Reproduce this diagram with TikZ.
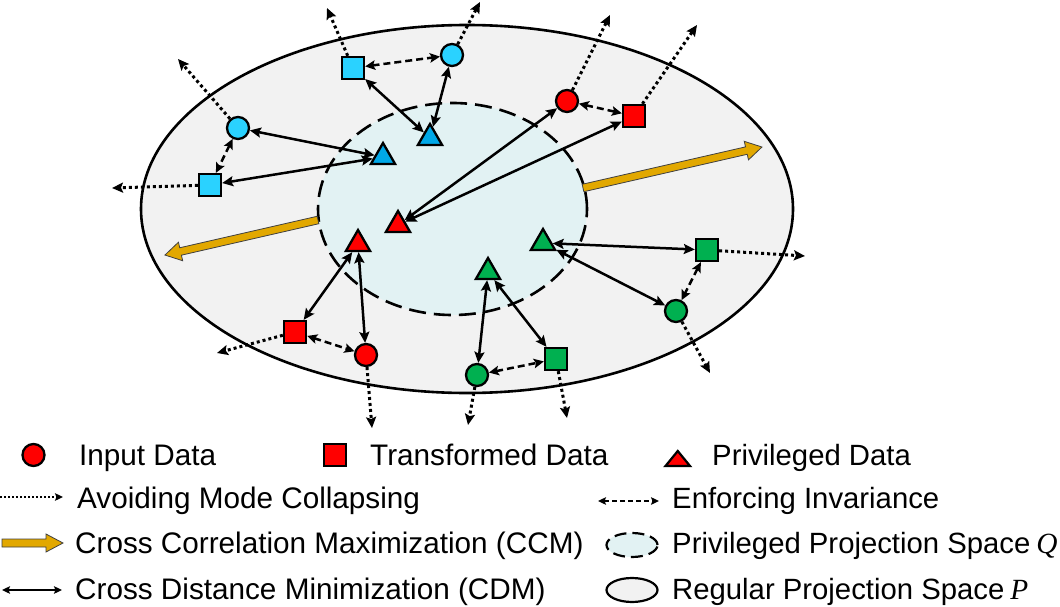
\documentclass[tikz,border=0pt]{standalone}
\usepackage{fontspec}
\setmainfont{Liberation Sans}
\newfontfamily\seriffont{Liberation Serif}
\usetikzlibrary{arrows.meta,shapes.geometric}
\definecolor{outerfill}{HTML}{F2F2F2}
\definecolor{innerfill}{HTML}{E2F2F3}
\definecolor{cyanA}{HTML}{2AD2FF}
\definecolor{cyanT}{HTML}{00A8E8}
\definecolor{redA}{HTML}{FF0000}
\definecolor{greenA}{HTML}{00B050}
\definecolor{gold}{HTML}{E2A800}
\begin{document}
\begin{tikzpicture}[x=1pt,y=-1pt,
  pt/.style={draw=black, line width=2.3pt, inner sep=0pt, minimum size=22pt},
  circ/.style={pt, circle},
  sq/.style={pt, rectangle},
  tri/.style={draw=black, line width=2.3pt, inner sep=0pt, regular polygon, regular polygon sides=3, minimum size=28pt},
  cdm/.style={line width=2.5pt, {Stealth[length=11pt,width=10pt,inset=2pt]}-{Stealth[length=11pt,width=10pt,inset=2pt]}},
  inv/.style={line width=2.5pt, dash pattern=on 7pt off 4pt, {Stealth[length=10pt,width=9.5pt,inset=2pt]}-{Stealth[length=10pt,width=9.5pt,inset=2pt]}},
  amc/.style={line width=3pt, dash pattern=on 3pt off 3pt, -{Stealth[length=11pt,width=10pt,inset=2pt]}},
  cdmsmall/.style={line width=2pt, {Stealth[length=8pt,width=7.5pt,inset=1.5pt]}-{Stealth[length=8pt,width=7.5pt,inset=1.5pt]}},
  invsmall/.style={line width=2pt, dash pattern=on 5pt off 3pt, {Stealth[length=8pt,width=7.5pt,inset=1.5pt]}-{Stealth[length=8pt,width=7.5pt,inset=1.5pt]}},
  amcsmall/.style={line width=2pt, dash pattern=on 2pt off 2pt, -{Stealth[length=8pt,width=7.5pt,inset=1.5pt]}},
  ccm/.style={fill=gold, draw=black!75, line width=0.8pt},
  lab/.style={anchor=base west, inner sep=0pt, font=\fontsize{29.7}{34}\selectfont},
  labr/.style={anchor=base west, inner sep=0pt, font=\fontsize{29.3}{34}\selectfont},
]
\useasboundingbox (0,0) rectangle (1060,607);

% projection spaces
\draw[line width=2.6pt, fill=outerfill] (467,209) ellipse [x radius=326pt, y radius=184pt];
\draw[line width=2.6pt, dash pattern=on 17pt off 8pt, fill=innerfill] (452.5,209) ellipse [x radius=134.5pt, y radius=106pt];

% CCM arrows
\begin{scope}[shift={(583,188)}, rotate=12.9]
\draw[ccm] (0,-3.8) -- (167.6,-3.8) -- (167.6,-9.5) -- (183.6,0) -- (167.6,9.5) -- (167.6,3.8) -- (0,3.8) -- cycle;
\end{scope}
\begin{scope}[shift={(318,220)}, rotate=192.9]
\draw[ccm] (0,-3.8) -- (141,-3.8) -- (141,-9.5) -- (157,0) -- (141,9.5) -- (141,3.8) -- (0,3.8) -- cycle;
\end{scope}

% blue points
\node[sq, fill=cyanA] (B1) at (353,68) {};
\node[circ, fill=cyanA] (C1) at (452,55) {};
\node[tri, fill=cyanT] (T1) at (430,138) {};
\node[circ, fill=cyanA] (C2) at (238,128) {};
\node[tri, fill=cyanT] (T2) at (383,157) {};
\node[sq, fill=cyanA] (B2) at (210,185) {};
% red points
\node[circ, fill=redA] (R1) at (567,101) {};
\node[sq, fill=redA] (RS1) at (634,116) {};
\node[tri, fill=redA] (RT1) at (398,225) {};
\node[tri, fill=redA] (RT2) at (358,244) {};
\node[sq, fill=redA] (RS2) at (295,332) {};
\node[circ, fill=redA] (R2) at (366,355) {};
% green points
\node[tri, fill=greenA] (GT1) at (543,243) {};
\node[tri, fill=greenA] (GT2) at (488,272) {};
\node[sq, fill=greenA] (GS1) at (707,250) {};
\node[circ, fill=greenA] (GC1) at (676,311) {};
\node[sq, fill=greenA] (GS2) at (556,359) {};
\node[circ, fill=greenA] (GC2) at (477,375) {};

% CDM
\draw[cdm] (B1) -- (T1);
\draw[cdm] (C1) -- (T1);
\draw[cdm] (C2) -- (T2);
\draw[cdm] (B2) -- (T2);
\draw[cdm] (RT1) -- (R1);
\draw[cdm] (RT1) -- (RS1);
\draw[cdm] (RT2) -- (RS2);
\draw[cdm] (RT2) -- (R2);
\draw[cdm] (GT1) -- (GS1);
\draw[cdm] (GT1) -- (GC1);
\draw[cdm] (GT2) -- (GC2);
\draw[cdm] (GT2) -- (GS2);

% invariance
\draw[inv] (B1) -- (C1);
\draw[inv] (C2) -- (B2);
\draw[inv] (R1) -- (RS1);
\draw[inv] (RS2) -- (R2);
\draw[inv] (GS1) -- (GC1);
\draw[inv] (GC2) -- (GS2);

% avoiding mode collapsing
\coordinate (dB1) at (327,8);
\coordinate (dC1) at (480,2);
\coordinate (dC2) at (178,59);
\coordinate (dB2) at (112,188);
\coordinate (dR1) at (610,15);
\coordinate (dRS1) at (697,25);
\coordinate (dRS2) at (217,353);
\coordinate (dR2) at (372,428);
\coordinate (dGS1) at (805,256);
\coordinate (dGC1) at (710,373);
\coordinate (dGS2) at (567,418);
\coordinate (dGC2) at (468,425);
\draw[amc] (B1) -- (dB1);
\draw[amc] (C1) -- (dC1);
\draw[amc] (C2) -- (dC2);
\draw[amc] (B2) -- (dB2);
\draw[amc] (R1) -- (dR1);
\draw[amc] (RS1) -- (dRS1);
\draw[amc] (RS2) -- (dRS2);
\draw[amc] (R2) -- (dR2);
\draw[amc] (GS1) -- (dGS1);
\draw[amc] (GC1) -- (dGC1);
\draw[amc] (GS2) -- (dGS2);
\draw[amc] (GC2) -- (dGC2);

% legend
\node[circ, fill=redA] (LC) at (33.5,455) {};
\node[lab] (tLC) at (79,465) {Input Data};
\node[sq, fill=redA] (LS) at (335,455) {};
\node[lab] (tLS) at (370,465) {Transformed Data};
\draw[line width=2.2pt, fill=redA, line join=miter] (665.5,466) -- (690,466) -- (677.75,451) -- cycle;
\node[labr] (tLT) at (712,465) {Privileged Data};

\coordinate (la1) at (0,497);
\coordinate (la2) at (63,497);
\draw[amcsmall] (la1) -- (la2);
\node[lab] (tLA) at (77,508) {Avoiding Mode Collapsing};
\coordinate (li1) at (598,501);
\coordinate (li2) at (659,501);
\draw[invsmall] (li1) -- (li2);
\node[labr] (tLI) at (672,508) {Enforcing Invariance};

\begin{scope}[shift={(2,543)}]
\draw[ccm] (0,-4) -- (44,-4) -- (44,-9) -- (61,0) -- (44,9) -- (44,4) -- (0,4) -- cycle;
\end{scope}
\node[lab] (tLCCM) at (75,553) {Cross Correlation Maximization (CCM)};
\draw[line width=2.2pt, dash pattern=on 12pt off 6pt, fill=innerfill] (632,545) ellipse [x radius=25.5pt, y radius=12pt];
\node[labr] (tLQ) at (672,553) {Privileged Projection Space\hspace{0.2em}{\seriffont\itshape Q}};

\coordinate (ld1) at (2,590);
\coordinate (ld2) at (62,590);
\draw[cdmsmall] (ld1) -- (ld2);
\node[lab] (tLCDM) at (75,599) {Cross Distance Minimization (CDM)};
\draw[line width=2.2pt, fill=outerfill] (632,590) ellipse [x radius=25.5pt, y radius=12pt];
\node[labr] (tLP) at (672,599) {Regular Projection Space\hspace{0.2em}{\seriffont\itshape P}};
\end{tikzpicture}
\end{document}
